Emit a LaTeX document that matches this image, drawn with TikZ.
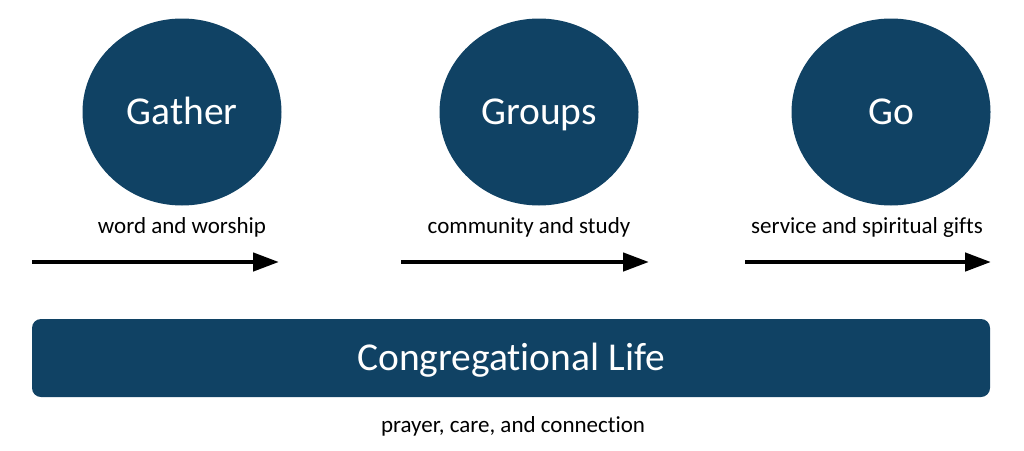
\documentclass[tikz,border=0pt]{standalone}
\usepackage{fontspec}
\setmainfont{Carlito}[Ligatures=NoCommon]
\usetikzlibrary{shapes.geometric,arrows.meta}
\definecolor{navy}{RGB}{16,66,100}
\begin{document}
\begin{tikzpicture}[x=1pt,y=-1pt,
  bubble/.style={ellipse,fill=navy,minimum width=199pt,minimum height=187pt,inner sep=0pt,text=white,font=\fontsize{39.5}{44}\selectfont,text height=26pt,text depth=2pt},
  caption/.style={font=\fontsize{23}{26}\selectfont,text=black,inner sep=0pt,anchor=base},
  flow/.style={line width=4.5pt,-{Triangle[length=26pt,width=18pt]}},
  bar/.style={rounded corners=9pt,fill=navy,minimum width=958pt,minimum height=78pt,inner sep=0pt,text=white,font=\fontsize{39.5}{44}\selectfont,text height=26pt,text depth=2pt}]
\useasboundingbox (0,0) rectangle (1024,450);
\node[bubble] (gather) at (182,112) {Gather};
\node[bubble] (groups) at (539,112) {Groups};
\node[bubble] (go) at (891,112) {Go};
\node[caption] (c1) at (182,233) {word and worship};
\node[caption] (c2) at (529,233) {community and study};
\node[caption] (c3) at (867,233) {service and spiritual gifts};
\coordinate (a1s) at (32,262); \coordinate (a1e) at (279,262);
\coordinate (a2s) at (401,262); \coordinate (a2e) at (649,262);
\coordinate (a3s) at (745,262); \coordinate (a3e) at (991,262);
\draw[flow] (a1s) -- (a1e);
\draw[flow] (a2s) -- (a2e);
\draw[flow] (a3s) -- (a3e);
\node[bar] (life) at (511,358) {Congregational Life};
\node[caption] (c4) at (513,432) {prayer, care, and connection};
\end{tikzpicture}
\end{document}
